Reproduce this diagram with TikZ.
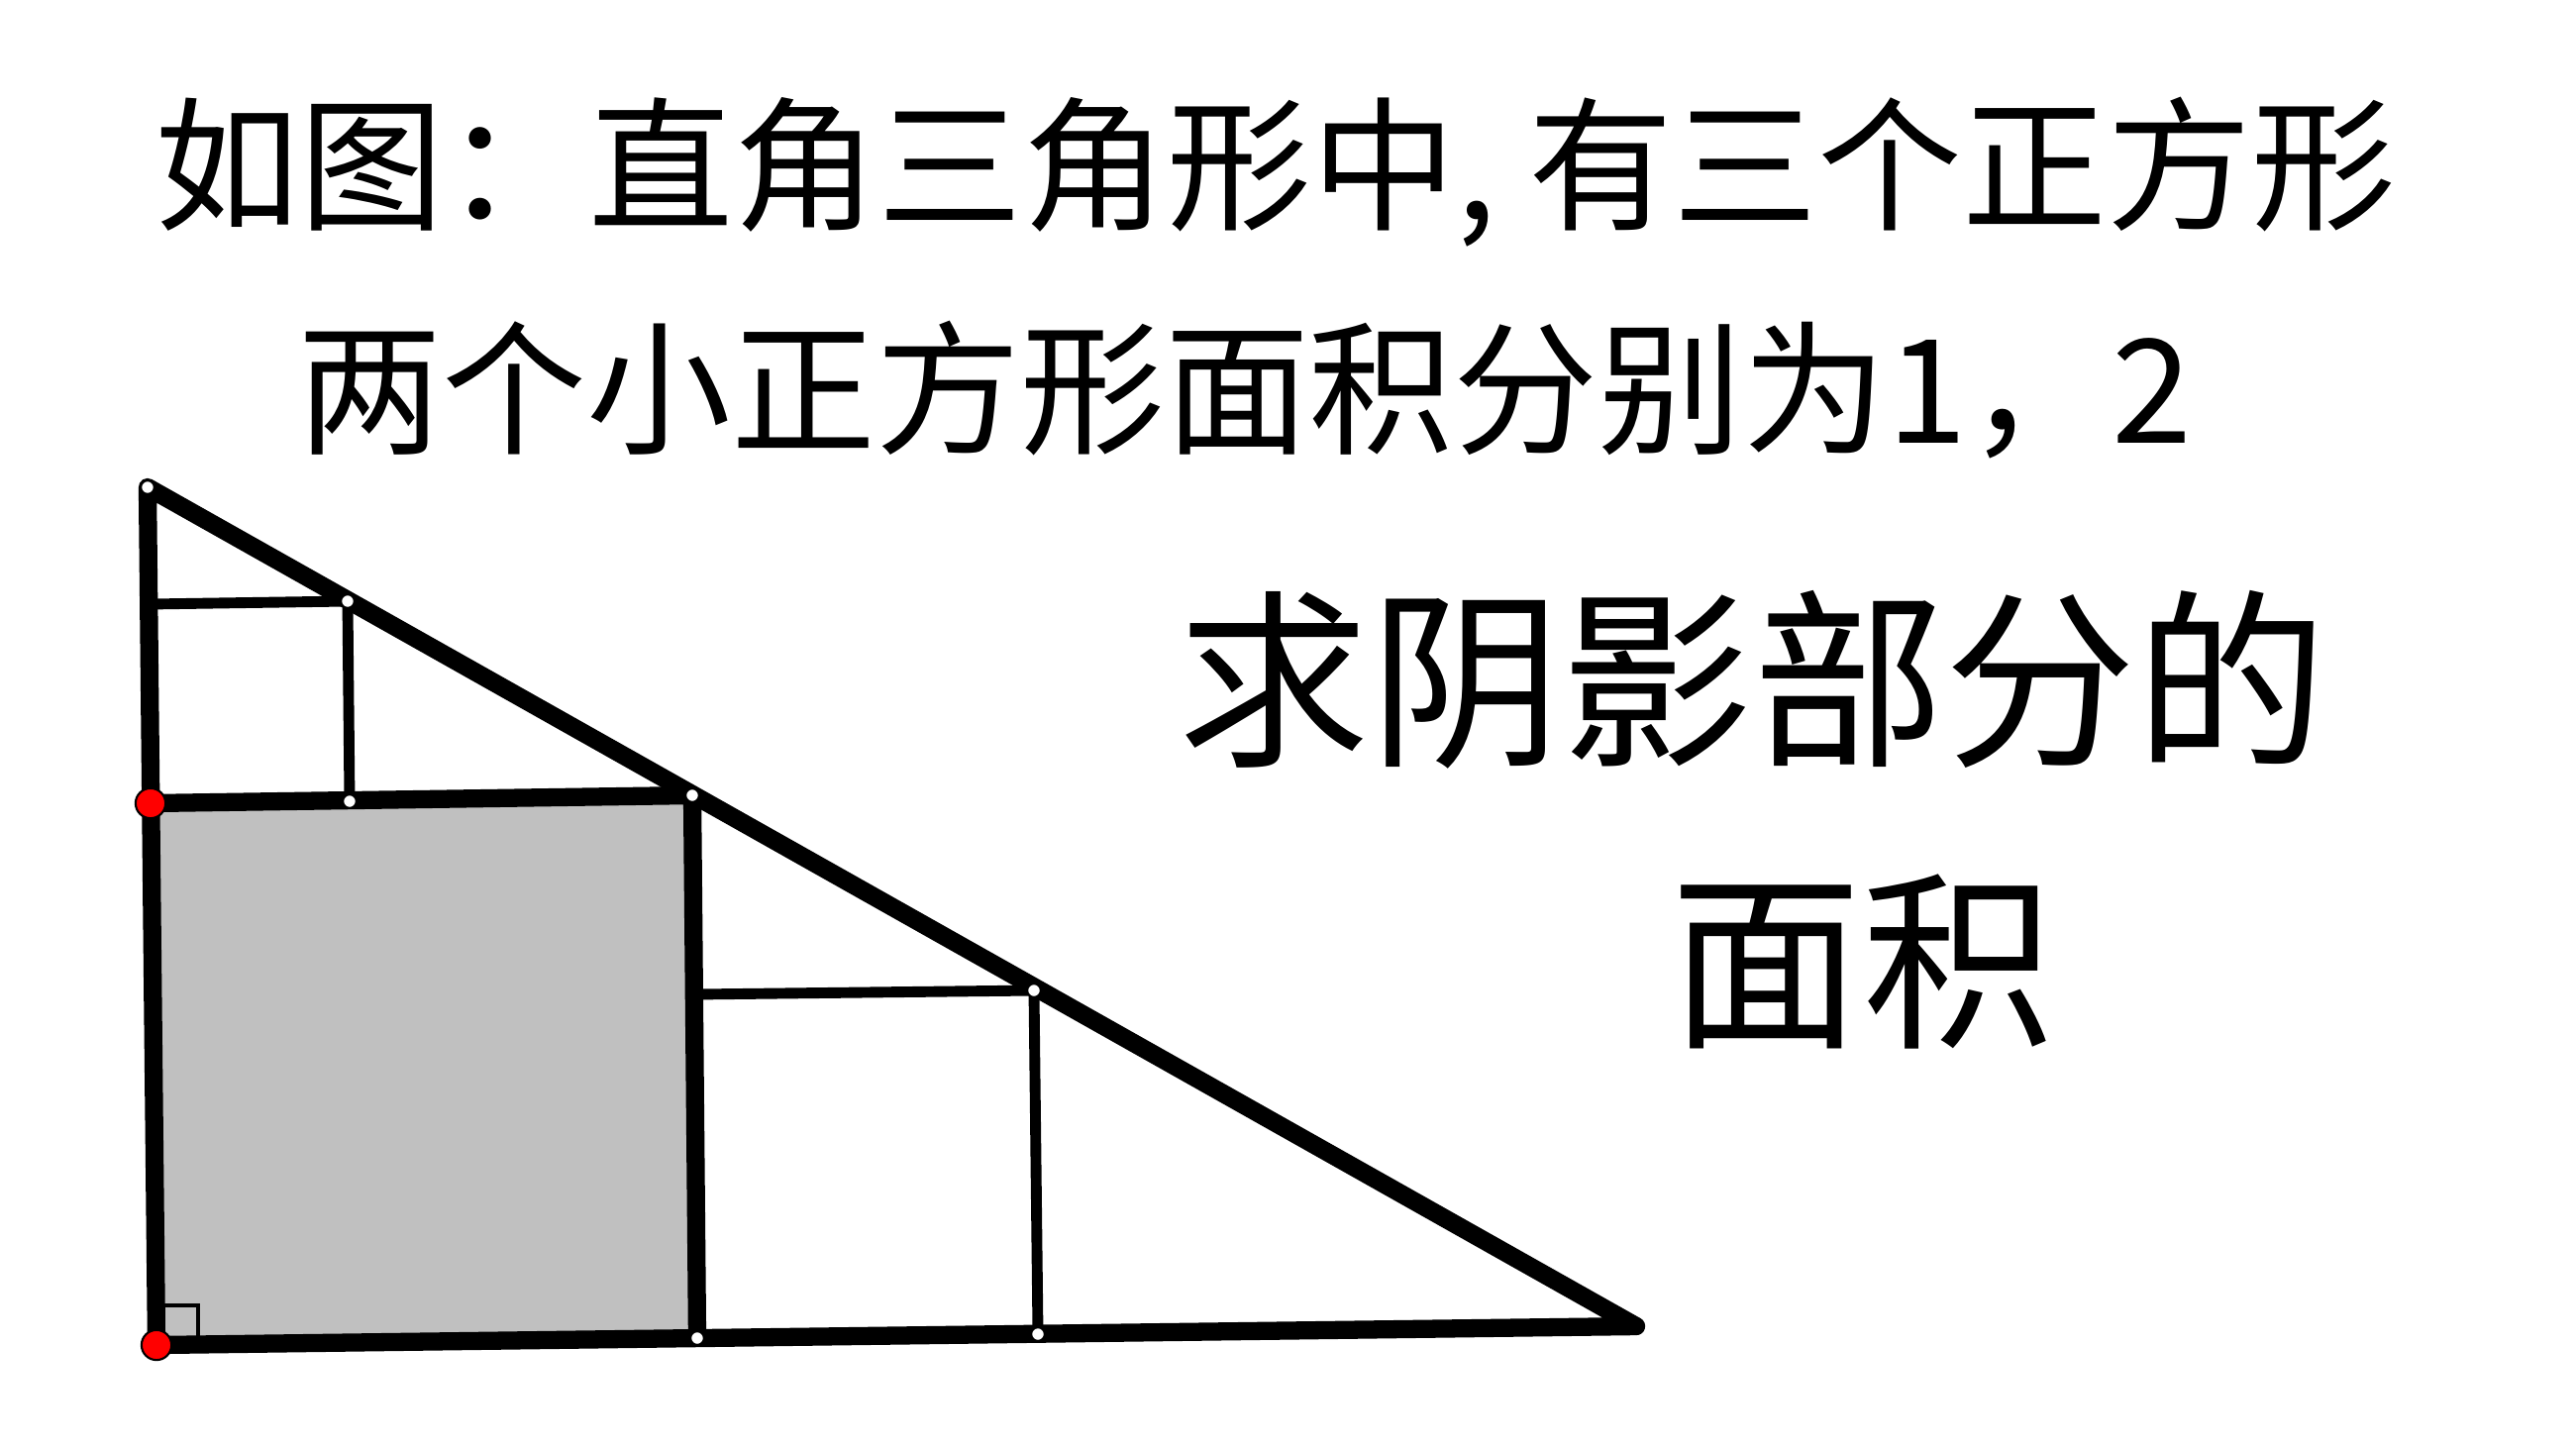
\documentclass[tikz,border=0pt]{standalone}
\usepackage{fontspec}
\usepackage{xcolor}
\newfontfamily\cjk{Noto Sans CJK SC}
\usetikzlibrary{calc}
\definecolor{shadegray}{RGB}{192,192,192}

\begin{document}
\begin{tikzpicture}[x=0.01cm, y=-0.01cm,
    thickline/.style={line width=5.2pt, line join=round},
    thinline/.style={line width=3.1pt},
    markline/.style={line width=1.3pt},
    whitedot/.style={circle, fill=white, draw=black, line width=0.5pt, inner sep=0pt, minimum size=3.8pt},
    reddot/.style={circle, fill=red, draw=black, line width=0.6pt, inner sep=0pt, minimum size=8.6pt},
    textline/.style={font=\cjk\fontsize{41.5pt}{50pt}\selectfont, inner sep=0pt},
    bigline/.style={font=\cjk\fontsize{55pt}{66pt}\selectfont, inner sep=0pt}]
    \useasboundingbox (0,0) rectangle (2601,1463);

    % triangle
    \coordinate (A) at (149,492);
    \coordinate (B) at (158,1358);
    \coordinate (C) at (1652,1339);
    % big square B-D-E-F
    \coordinate (D) at (152,811);
    \coordinate (E) at (699,803);
    \coordinate (F) at (704,1351);
    % small square (top)
    \coordinate (G) at (150,610);
    \coordinate (H) at (351,607);
    \coordinate (I) at (353,809);
    % medium square (right)
    \coordinate (J) at (701,1004);
    \coordinate (K) at (1044,1000);
    \coordinate (L) at (1048,1347);

    \fill[shadegray] (B) -- (D) -- (E) -- (F) -- cycle;

    \draw[thinline] (G) -- (H) -- (I);
    \draw[thinline] (J) -- (K) -- (L);

    \draw[thickline] (A) -- (B) -- (C) -- cycle;
    \draw[thickline] (D) -- (E) -- (F);

    % right angle mark
    \draw[markline] ($(B)+(0,-40)$) -- ($(B)+(42,-40)$) -- ($(B)+(42,0)$);

    \foreach \p in {A,H,I,E,F,K,L}
        \node[whitedot] (dot\p) at (\p) {};
    \foreach \p in {D,B}
        \node[reddot] (dot\p) at (\p) {};

    \node[textline] (line1) at (1288,174) {如图：直角三角形中, 有三个正方形};
    \node[textline] (line2) at (1257,394) {两个小正方形面积分别为1，2};
    \node[bigline] (ask1) at (1770,686) {求阴影部分的};
    \node[bigline] (ask2) at (1880,971) {面积};
\end{tikzpicture}
\end{document}
